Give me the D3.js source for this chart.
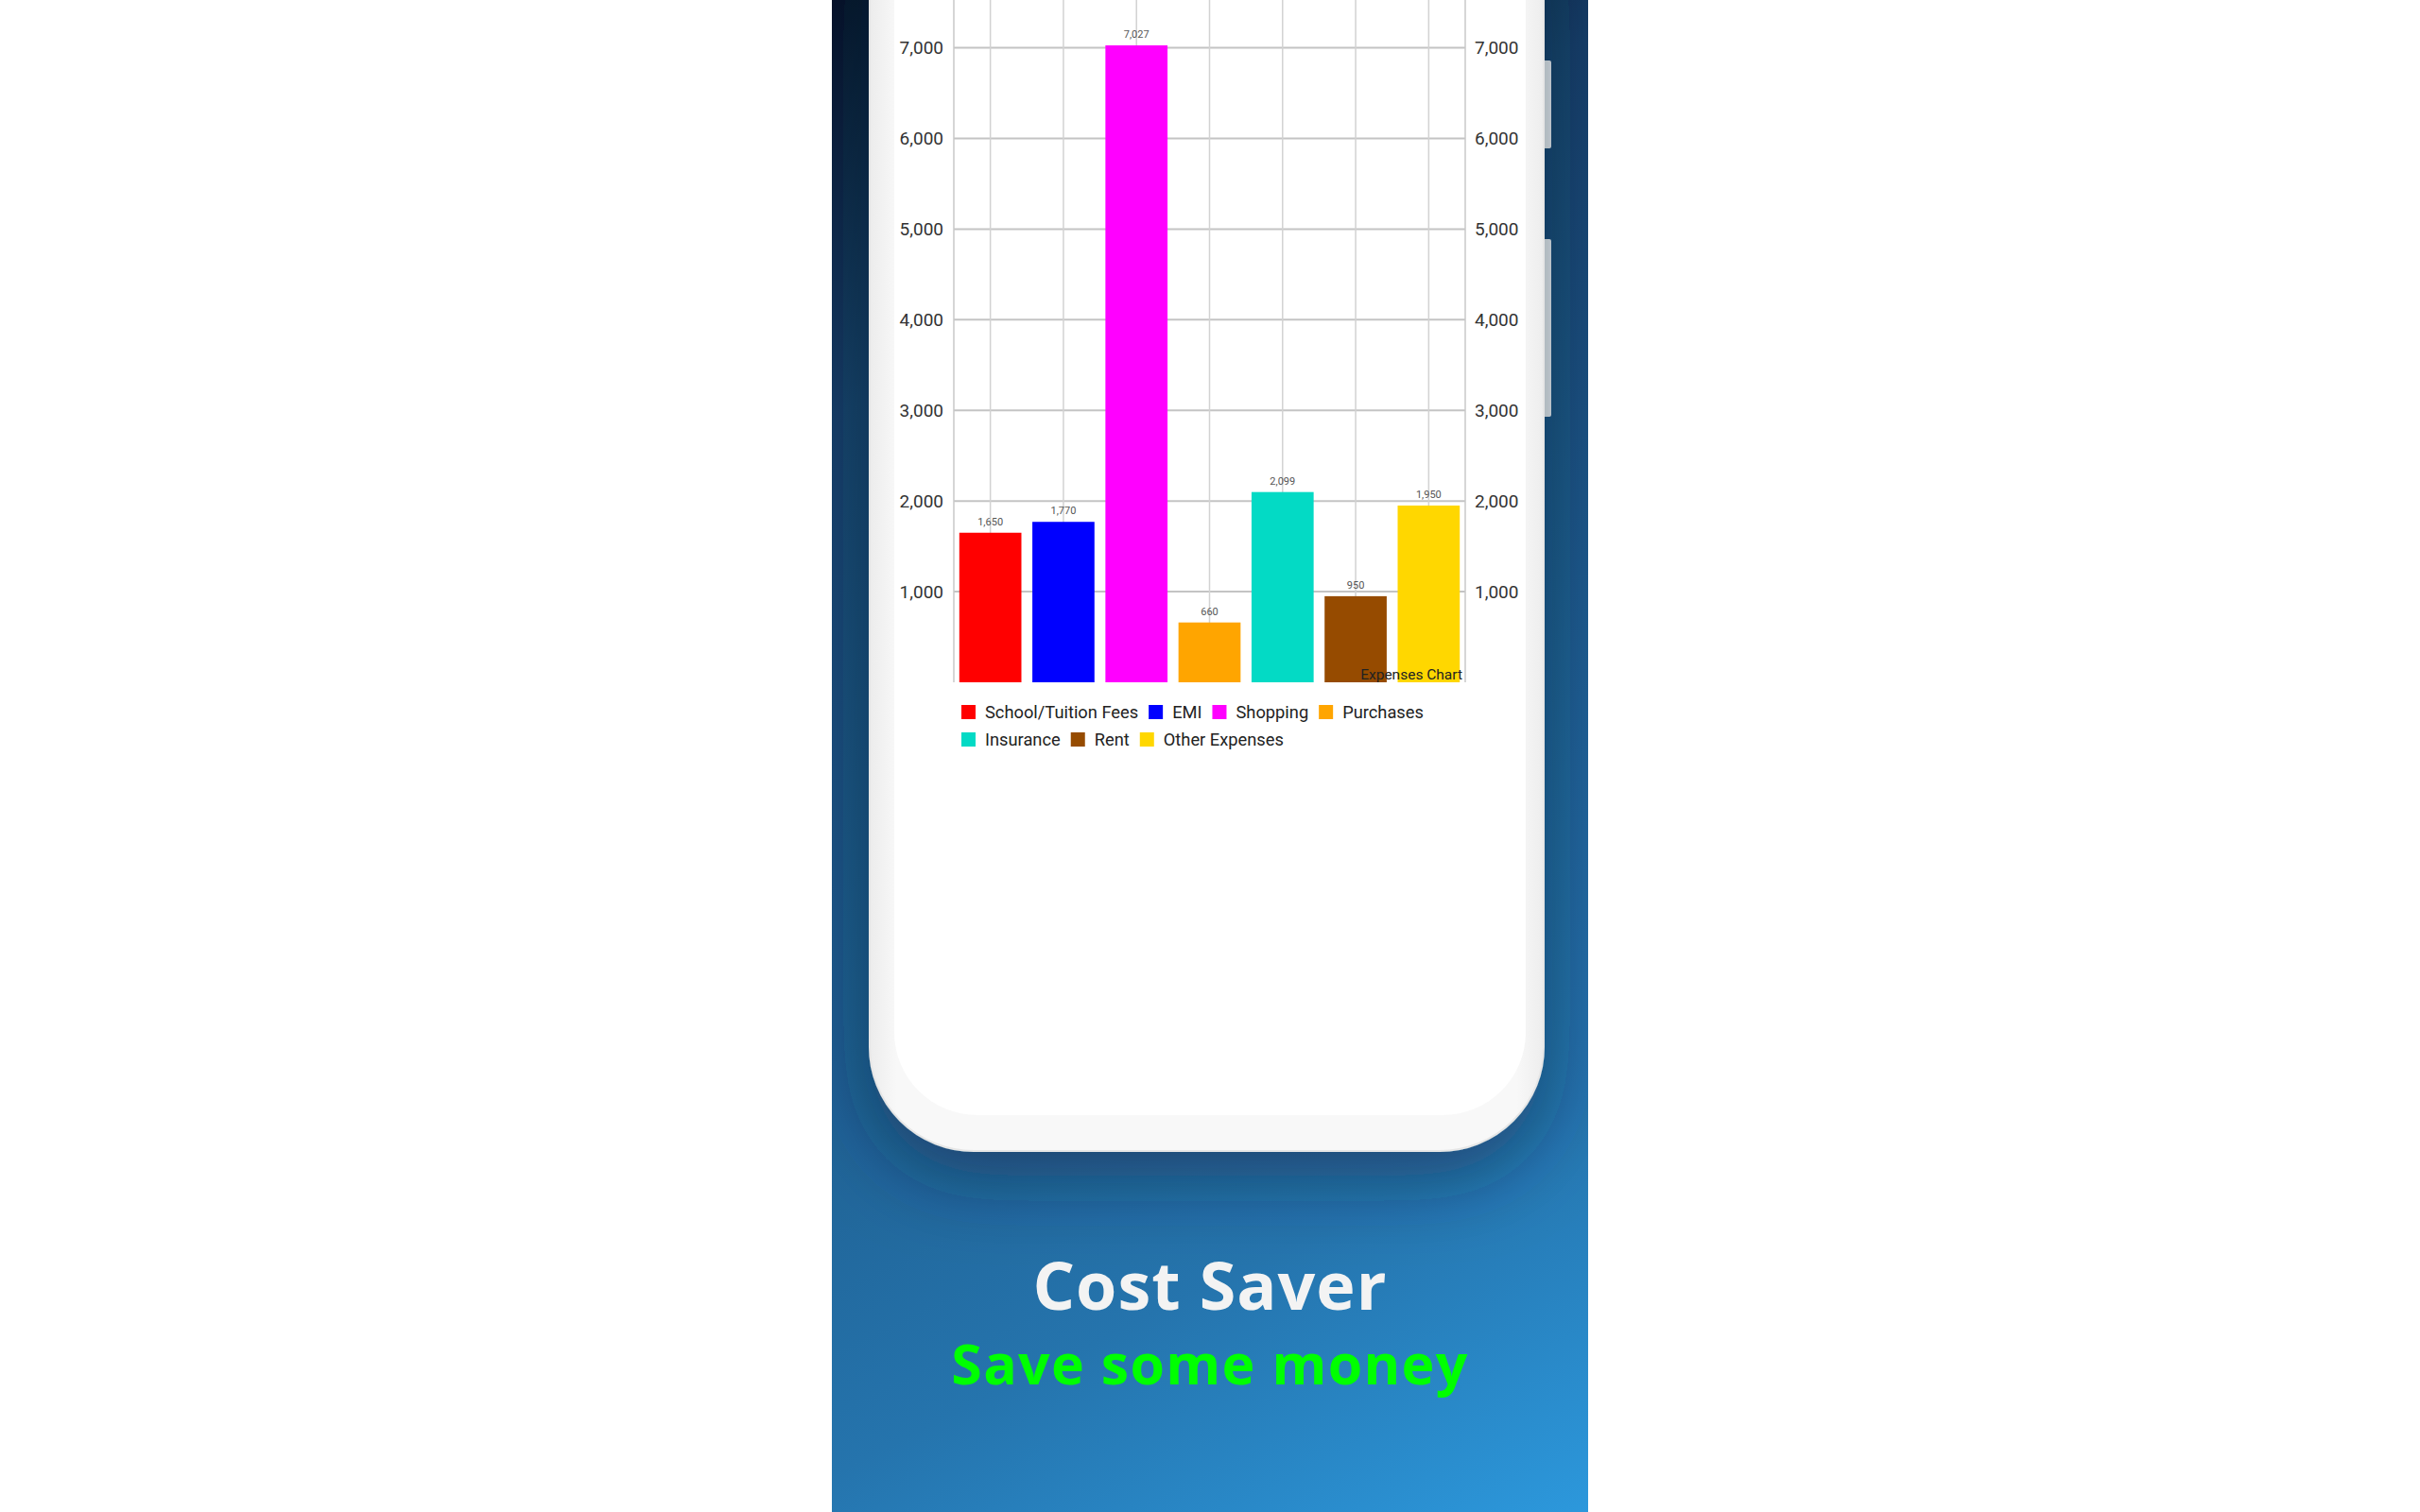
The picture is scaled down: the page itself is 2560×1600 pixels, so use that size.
<!DOCTYPE html>
<html>
<head>
<meta charset="utf-8">
<script src="https://cdn.jsdelivr.net/npm/d3@7"></script>
<style>
  html, body { margin: 0; padding: 0; background: #fff; }
  svg { display: block; }
</style>
</head>
<body>
<svg id="chart" width="2560" height="1600"></svg>
<script>
  // chart data
  var categories = ['School/Tuition Fees', 'EMI', 'Shopping', 'Purchases', 'Insurance', 'Rent', 'Other Expenses'];
  var amounts = [1650, 1770, 7027, 660, 2099, 950, 1950];
  var barColors = ['#ff0000', '#0000ff', '#ff00ff', '#ffa500', '#03dac5', '#964b00', '#ffd700'];
  var yTicks = [1000, 2000, 3000, 4000, 5000, 6000, 7000];
  var description = 'Expenses Chart';
  var headline = 'Cost Saver';
  var tagline = 'Save some money';

  var svg = d3.select('#chart');
  var defs = svg.append('defs');

  // panel background gradient
  var grad = defs.append('linearGradient')
      .attr('id', 'bg')
      .attr('gradientUnits', 'userSpaceOnUse')
      .attr('x1', 880).attr('y1', 0)
      .attr('x2', 1680).attr('y2', 1600);
  [['0', '#061327'], ['0.22', '#163f66'], ['0.5', '#1d5a8a'], ['0.78', '#2574ad'], ['1', '#2c98dc']]
      .forEach(function(s) {
          grad.append('stop').attr('offset', s[0]).attr('stop-color', s[1]);
      });

  var bezel = defs.append('linearGradient')
      .attr('id', 'bezel')
      .attr('x1', 0).attr('y1', 0).attr('x2', 1).attr('y2', 0);
  [['0', '#ececec'], ['0.04', '#f8f8f8'], ['0.96', '#f8f8f8'], ['1', '#ededed']]
      .forEach(function(s) {
          bezel.append('stop').attr('offset', s[0]).attr('stop-color', s[1]);
      });

  defs.append('clipPath').attr('id', 'panelClip')
      .append('rect')
      .attr('x', 880).attr('y', 0)
      .attr('width', 800).attr('height', 1600);

  var shadow = defs.append('filter').attr('id', 'shadow')
      .attr('x', '-20%').attr('y', '-20%').attr('width', '140%').attr('height', '140%');
  shadow.append('feDropShadow')
      .attr('dx', 0).attr('dy', 25)
      .attr('stdDeviation', 40)
      .attr('flood-color', '#08203a')
      .attr('flood-opacity', 0.5);

  var panel = svg.append('g').attr('clip-path', 'url(#panelClip)');

  panel.append('rect')
      .attr('x', 880).attr('y', 0)
      .attr('width', 800).attr('height', 1600)
      .attr('fill', 'url(#bg)');

  // phone body
  panel.append('rect')
      .attr('x', 1630).attr('y', 64).attr('width', 11).attr('height', 93)
      .attr('rx', 2).attr('fill', '#ededed');
  panel.append('rect')
      .attr('x', 1630).attr('y', 253).attr('width', 11).attr('height', 188)
      .attr('rx', 2).attr('fill', '#ededed');
  panel.append('rect')
      .attr('x', 920).attr('y', -150)
      .attr('width', 713).attr('height', 1368)
      .attr('rx', 110)
      .attr('fill', 'url(#bezel)')
      .attr('stroke', '#e6e6e6')
      .attr('stroke-width', 2)
      .attr('filter', 'url(#shadow)');
  panel.append('rect')
      .attr('x', 946).attr('y', -150)
      .attr('width', 668).attr('height', 1330)
      .attr('rx', 88)
      .attr('fill', '#ffffff');

  // scales
  var plotLeft = 1009, plotRight = 1550, plotBottom = 722;

  var x = d3.scaleBand()
      .domain(categories)
      .range([plotLeft, plotRight])
      .paddingInner(0.15)
      .paddingOuter(0.075);

  var y = d3.scaleLinear()
      .domain([0, 7000])
      .range([plotBottom, 50.6]);

  var chart = svg.append('g');

  // horizontal grid
  chart.selectAll('.hgrid')
      .data(yTicks)
      .enter().append('line')
      .attr('class', 'hgrid')
      .attr('x1', plotLeft).attr('x2', plotRight)
      .attr('y1', function(d) { return y(d); })
      .attr('y2', function(d) { return y(d); })
      .attr('stroke', '#c4c4c4')
      .attr('stroke-width', 2);

  // vertical grid at category centres
  chart.selectAll('.vgrid')
      .data(categories)
      .enter().append('line')
      .attr('class', 'vgrid')
      .attr('x1', function(d) { return x(d) + x.bandwidth() / 2; })
      .attr('x2', function(d) { return x(d) + x.bandwidth() / 2; })
      .attr('y1', 0).attr('y2', plotBottom)
      .attr('stroke', '#d2d2d2')
      .attr('stroke-width', 1.5);

  // axis lines left and right
  [plotLeft, plotRight].forEach(function(px) {
      chart.append('line')
          .attr('x1', px).attr('x2', px)
          .attr('y1', 0).attr('y2', plotBottom)
          .attr('stroke', '#c8c8c8')
          .attr('stroke-width', 1.5);
  });

  // bars
  chart.selectAll('.bar')
      .data(categories)
      .enter().append('rect')
      .attr('class', 'bar')
      .attr('x', function(d) { return x(d); })
      .attr('y', function(d, i) { return y(amounts[i]); })
      .attr('width', x.bandwidth())
      .attr('height', function(d, i) { return plotBottom - y(amounts[i]); })
      .attr('fill', function(d, i) { return barColors[i]; });

  // value labels
  chart.selectAll('.val')
      .data(categories)
      .enter().append('text')
      .attr('class', 'val')
      .attr('x', function(d) { return x(d) + x.bandwidth() / 2; })
      .attr('y', function(d, i) { return y(amounts[i]) - 8; })
      .attr('text-anchor', 'middle')
      .attr('font-family', 'Roboto, sans-serif')
      .attr('font-size', 11)
      .attr('fill', '#555')
      .text(function(d, i) { return d3.format(',')(amounts[i]); });

  // y axes
  var fmt = d3.format(',');
  var leftAxis = chart.append('g')
      .attr('transform', 'translate(' + plotLeft + ',0)')
      .call(d3.axisLeft(y).tickValues(yTicks).tickFormat(fmt).tickSize(0).tickPadding(11));
  var rightAxis = chart.append('g')
      .attr('transform', 'translate(' + plotRight + ',0)')
      .call(d3.axisRight(y).tickValues(yTicks).tickFormat(fmt).tickSize(0).tickPadding(10));
  [leftAxis, rightAxis].forEach(function(a) {
      a.select('.domain').remove();
      a.selectAll('text')
          .attr('font-family', 'Roboto, sans-serif')
          .attr('font-size', 19)
          .attr('fill', '#333');
  });

  // description
  chart.append('text')
      .attr('x', 1547).attr('y', 719)
      .attr('text-anchor', 'end')
      .attr('font-family', 'Roboto, sans-serif')
      .attr('font-size', 15.5)
      .attr('fill', '#222')
      .text(description);

  // legend, wraps like the android one
  var legend = chart.append('g');
  var lx = 1017, row = 0, maxX = 1552;
  categories.forEach(function(c, i) {
      var item = legend.append('g');
      item.append('rect')
          .attr('width', 15).attr('height', 15)
          .attr('fill', barColors[i]);
      var t = item.append('text')
          .attr('x', 25).attr('y', 14)
          .attr('font-family', 'Roboto, sans-serif')
          .attr('font-size', 18.3)
          .attr('fill', '#222')
          .text(c);
      var w = 25 + t.node().getComputedTextLength();
      if (lx + w > maxX && lx > 1017) {
          row++;
          lx = 1017;
      }
      item.attr('transform', 'translate(' + lx + ',' + (746 + row * 29) + ')');
      lx += w + 11;
  });

  // bottom captions
  function fitText(txt, cx, cy, size, target, color) {
      var t = svg.append('text')
          .attr('x', cx).attr('y', cy)
          .attr('text-anchor', 'middle')
          .attr('font-family', '"Open Sans", Lato, sans-serif')
          .attr('font-weight', 700)
          .attr('font-size', size)
          .attr('fill', color)
          .text(txt);
      var w = t.node().getComputedTextLength();
      t.attr('letter-spacing', (target - w) / (txt.length - 1));
      return t;
  }
  fitText(headline, 1280, 1386, 70, 374, '#f3f3f3');
  fitText(tagline, 1280, 1465, 59, 546, '#00ff00');
</script>
</body>
</html>
